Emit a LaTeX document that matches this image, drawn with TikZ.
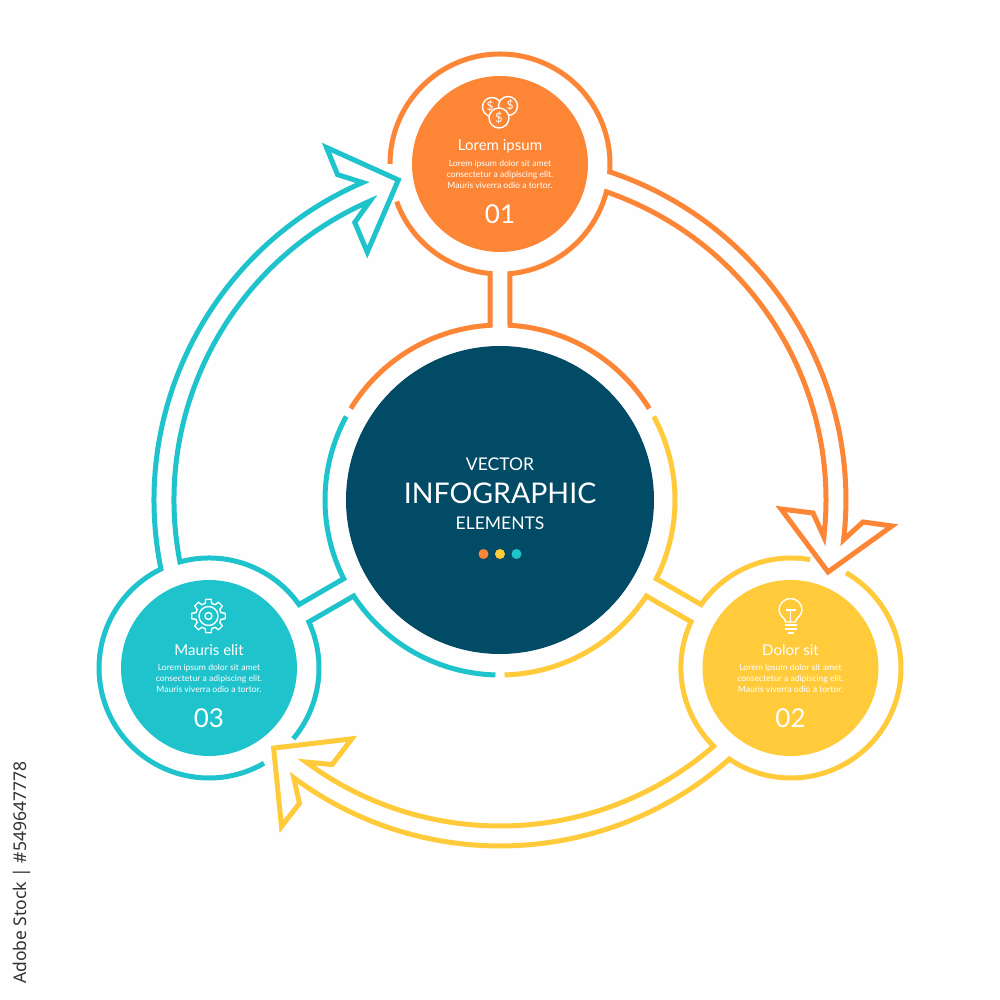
\documentclass[tikz,border=0pt]{standalone}
\usepackage{fontspec}
\setmainfont{Lato}
\newfontfamily\stockfont{Noto Sans}
\definecolor{orangeC}{HTML}{FC8635}
\definecolor{yellowC}{HTML}{FFCB3B}
\definecolor{tealC}{HTML}{1FC3CC}
\definecolor{navyC}{HTML}{024B66}
\definecolor{paperC}{HTML}{FEFEFE}
\newcommand{\fsize}[1]{\fontsize{#1}{#1}\selectfont}
\newcommand{\bodytext}{Lorem ipsum dolor sit amet\\consectetur a adipiscing elit.\\Mauris viverra odio a tortor.}
\tikzset{
  disc/.style={circle, minimum size=176pt, inner sep=0pt},
  band/.style={line width=5pt, line join=miter, miter limit=20},
  titletext/.style={white, inner sep=0pt, font=\fsize{15}},
  smalltext/.style={white, inner sep=0pt, align=center, font=\fontsize{8.6}{11}\selectfont},
  numtext/.style={white, inner sep=0pt, font=\fsize{26}},
  icon/.style={white, line width=1.4pt},
  dot/.style={circle, minimum size=10pt, inner sep=0pt}
}
\begin{document}
\begin{tikzpicture}[x=1pt, y=1pt]
  \useasboundingbox[fill=paperC] (-500,-500) rectangle (500,500);
  % the three bands, one drawn and turned
  \foreach \col/\turn in {orangeC/0, yellowC/-120, tealC/120} {
    \begin{scope}[rotate=\turn]
      \draw[band, \col] (148.5:175) arc[start angle=148.5, end angle=93.27, radius=175]
        -- (-10,226.5) arc[start angle=264.8, end angle=200, radius=110];
      \draw[band, \col] (-110,336) arc[start angle=180, end angle=-4.1, radius=110]
        arc[start angle=71.5, end angle=-6.6, radius=346]
        -- (363,-22) -- (392,-26) -- (328,-72) -- (281,-9) -- (313,-13)
        -- (-6.5:326) arc[start angle=-6.5, end angle=70.95, radius=326]
        arc[start angle=-14.6, end angle=-84.8, radius=110]
        -- (10,174.7) arc[start angle=86.73, end angle=31.5, radius=175];
    \end{scope}
  }
  \node[circle, fill=navyC, minimum size=308pt, inner sep=0pt] (centre) at (0,0) {};
  \node[white, inner sep=0pt, font=\fsize{17.5}] (vector) at (0,36) {VECTOR};
  \node[white, inner sep=0pt, font=\fsize{28.5}] (infographic) at (0,7) {INFOGRAPHIC};
  \node[white, inner sep=0pt, font=\fsize{17.5}] (elements) at (0,-23) {ELEMENTS};
  \node[dot, fill=orangeC] (dotA) at (-16.5,-54) {};
  \node[dot, fill=yellowC] (dotB) at (0,-54) {};
  \node[dot, fill=tealC] (dotC) at (16.5,-54) {};
  % discs with their texts
  \foreach \name/\x/\y/\col/\head/\num in {A/0/336/orangeC/Lorem ipsum/01, B/290.5/-168/yellowC/Dolor sit/02, C/-291/-168/tealC/Mauris elit/03} {
    \node[disc, fill=\col] (disc\name) at (\x,\y) {};
    \node[titletext] (head\name) at ([yshift=18pt]disc\name.center) {\head};
    \node[smalltext] (body\name) at ([yshift=-10pt]disc\name.center) {\bodytext};
    \node[numtext] (num\name) at ([yshift=-50pt]disc\name.center) {\num};
  }
  % coins
  \draw[icon, fill=orangeC] (-8,393) circle[radius=9.5];
  \draw[icon, fill=orangeC] (8,394) circle[radius=9.5];
  \draw[icon, fill=orangeC] (-1,382) circle[radius=10];
  \node[white, inner sep=0pt, font=\fsize{12}] (coinA) at (-10,394) {\$};
  \node[white, inner sep=0pt, font=\fsize{12}] (coinB) at (10,395) {\$};
  \node[white, inner sep=0pt, font=\fsize{13}] (coinC) at (-1,382) {\$};
  % bulb
  \begin{scope}[shift={(290.5,-111)}]
    \draw[icon] (-5,-11) .. controls (-5,-7) and (-11.5,-5) .. (-11.5,1)
      arc[start angle=180, end angle=0, radius=11.5]
      .. controls (11.5,-5) and (5,-7) .. (5,-11) -- cycle;
    \draw[icon] (-5,1) -- (5,1) (0,1) -- (0,-11);
    \draw[icon] (-6,-14) -- (6,-14) (-6,-18) -- (6,-18) (-3,-22) -- (3,-22);
  \end{scope}
  % gear
  \begin{scope}[shift={(-291.5,-116)}]
    \draw[icon, line join=round] (-15:13)
      \foreach \t in {0,45,...,315} { -- (\t-15:13) -- (\t-9:17) -- (\t+9:17) -- (\t+15:13) } -- cycle;
    \draw[icon] (0,0) circle[radius=9.5];
    \draw[icon] (0,0) circle[radius=3.5];
  \end{scope}
  \node[rotate=90, anchor=west, inner sep=0pt, text=black!80, font=\stockfont\fsize{17.5}] (stockid) at (-478,-484) {Adobe Stock | \#549647778};
\end{tikzpicture}
\end{document}
